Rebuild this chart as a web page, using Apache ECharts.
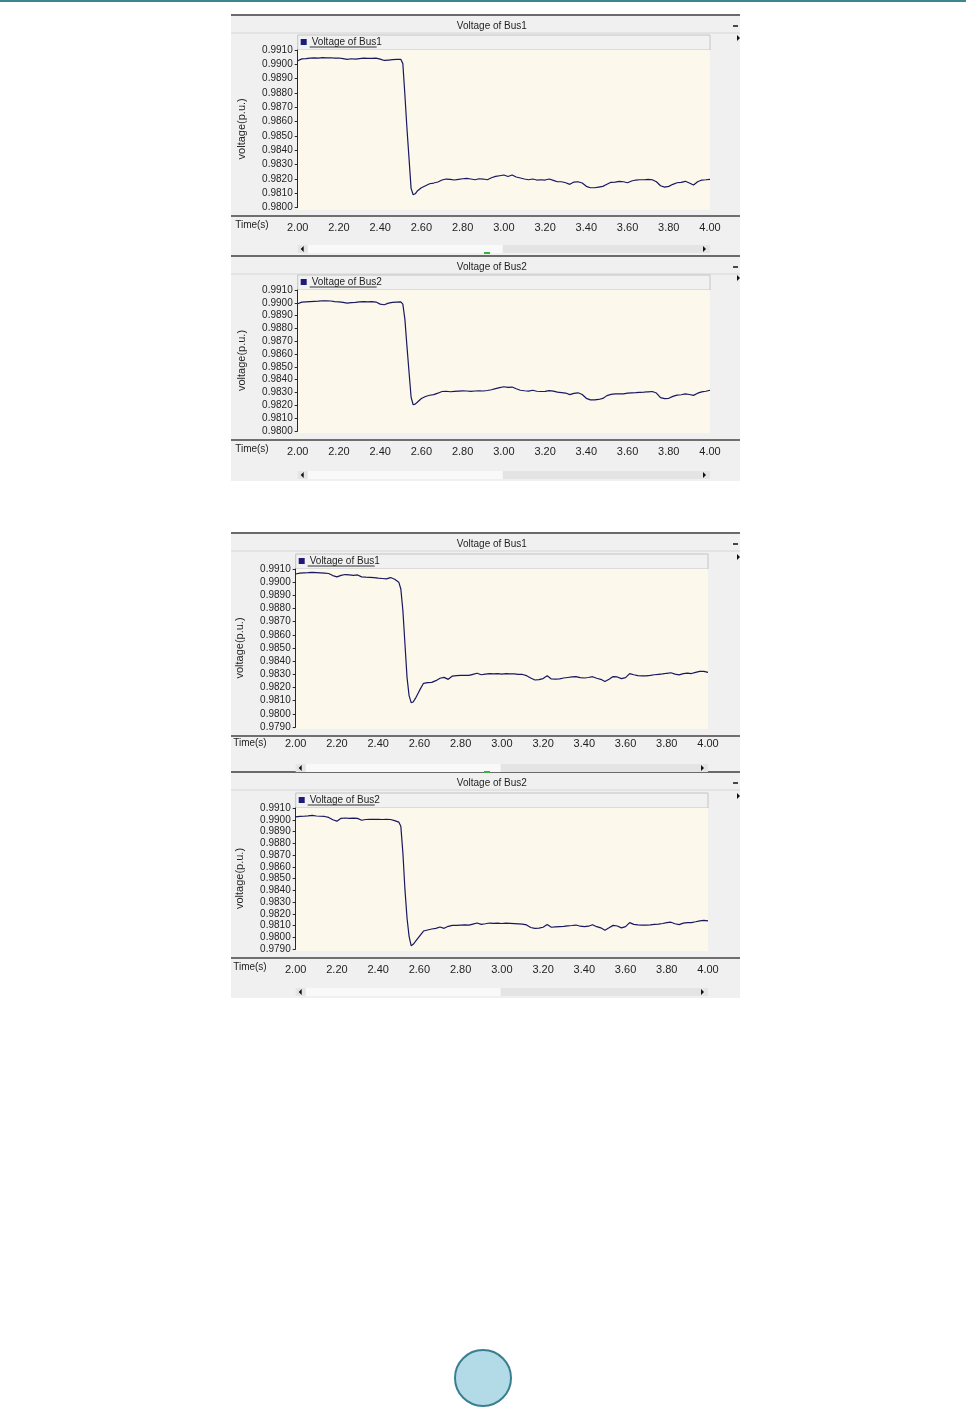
<!DOCTYPE html>
<html><head><meta charset="utf-8">
<script src="https://cdn.jsdelivr.net/npm/echarts@6/dist/echarts.min.js"></script>
<style>html,body{margin:0;padding:0;background:#fff}#c{width:966px;height:1409px}</style>
</head><body><div id="c"></div>
<script>
// ---- data ----
const timeS = [
  2.00,2.02,2.04,2.06,2.08,2.10,2.12,2.14,2.16,2.18,2.20,2.22,2.24,2.26,2.28,2.30,2.32,2.34,2.36,2.38,2.40,2.42,2.44,2.46,2.48,2.50,
  2.51,2.52,2.53,2.54,2.55,2.56,2.57,
  2.58,
  2.60,2.62,2.64,2.66,2.68,2.70,
  2.72,2.74,2.76,2.78,2.80, 2.82,2.84,2.86,2.88,2.90, 2.92,2.94,2.96,2.98,3.00,
  3.02,3.04,3.06,3.08,3.10, 3.12,3.14,3.16,3.18,3.20, 3.22,3.24,3.26,3.28,3.30,
  3.32,3.34,3.36,3.38,3.40, 3.42,3.44,3.46,3.48,3.50, 3.52,3.54,3.56,3.58,3.60,
  3.62,3.64,3.66,3.68,3.70, 3.72,3.74,3.76,3.78,3.80, 3.82,3.84,3.86,3.88,3.90,
  3.92,3.94,3.96,3.98,4.00
];
const bus1First = [
  0.99025,0.99038,0.99040,0.99043,0.99045,0.99044,0.99047,0.99045,0.99046,0.99043,0.99044,0.99040,0.99035,0.99039,0.99037,0.99040,0.99043,0.99042,0.99041,0.99043,0.99036,0.99027,0.99030,0.99033,0.99035,0.99035,
  0.99005,0.98786,0.98553,0.98344,0.98135,0.98090,0.98097,
  0.98116,
  0.98139,0.98153,0.98167,0.98172,0.98179,0.98193,
  0.98200,0.98198,0.98193,0.98198,0.98202, 0.98204,0.98200,0.98195,0.98202,0.98200, 0.98195,0.98209,0.98218,0.98223,0.98228,
  0.98218,0.98228,0.98214,0.98207,0.98200, 0.98195,0.98200,0.98193,0.98195,0.98193, 0.98200,0.98191,0.98181,0.98181,0.98174,
  0.98163,0.98179,0.98181,0.98172,0.98149, 0.98139,0.98139,0.98144,0.98149,0.98163, 0.98177,0.98179,0.98184,0.98181,0.98174,
  0.98186,0.98193,0.98195,0.98195,0.98198, 0.98195,0.98181,0.98153,0.98144,0.98149, 0.98163,0.98174,0.98177,0.98184,0.98172,
  0.98158,0.98181,0.98193,0.98195,0.98198
];
const bus2First = [
  0.98993,0.99005,0.99008,0.99010,0.99012,0.99013,0.99016,0.99015,0.99014,0.99010,0.99008,0.99003,0.98997,0.99001,0.99004,0.99008,0.99010,0.99007,0.99010,0.99006,0.98990,0.98985,0.98998,0.99004,0.99006,0.99008,
  0.98990,0.98871,0.98660,0.98460,0.98265,0.98205,0.98210,
  0.98224,
  0.98253,0.98269,0.98279,0.98284,0.98295,0.98308,
  0.98310,0.98306,0.98309,0.98311,0.98313, 0.98312,0.98309,0.98312,0.98314,0.98312, 0.98316,0.98322,0.98331,0.98339,0.98345,
  0.98340,0.98343,0.98330,0.98318,0.98314, 0.98311,0.98318,0.98310,0.98308,0.98309, 0.98315,0.98311,0.98303,0.98300,0.98296,
  0.98284,0.98294,0.98298,0.98285,0.98255, 0.98243,0.98243,0.98246,0.98254,0.98276, 0.98286,0.98289,0.98290,0.98289,0.98296,
  0.98298,0.98299,0.98302,0.98303,0.98306, 0.98308,0.98296,0.98260,0.98253,0.98255, 0.98270,0.98280,0.98283,0.98290,0.98285,
  0.98278,0.98295,0.98305,0.98310,0.98318
];
const bus1Second = [
  0.99062,0.99068,0.99070,0.99072,0.99075,0.99073,0.99071,0.99069,0.99066,0.99050,0.99040,0.99052,0.99058,0.99056,0.99052,0.99055,0.99040,0.99038,0.99037,0.99035,0.99030,0.99028,0.99025,0.99035,0.99022,0.99000,
  0.98948,0.98784,0.98530,0.98277,0.98138,0.98085,0.98090,
  0.98115,
  0.98176,0.98232,0.98237,0.98239,0.98252,0.98270,
  0.98277,0.98262,0.98287,0.98290,0.98292, 0.98293,0.98292,0.98300,0.98308,0.98297, 0.98302,0.98306,0.98303,0.98305,0.98302,
  0.98305,0.98304,0.98303,0.98300,0.98299, 0.98290,0.98272,0.98257,0.98260,0.98268, 0.98289,0.98265,0.98264,0.98266,0.98272,
  0.98276,0.98280,0.98283,0.98275,0.98272, 0.98276,0.98282,0.98270,0.98262,0.98245, 0.98262,0.98283,0.98280,0.98267,0.98275,
  0.98305,0.98297,0.98290,0.98289,0.98289, 0.98292,0.98297,0.98300,0.98303,0.98308, 0.98312,0.98302,0.98296,0.98305,0.98309,
  0.98306,0.98315,0.98323,0.98322,0.98315
];
const bus2Second = [
  0.99024,0.99029,0.99030,0.99033,0.99037,0.99032,0.99030,0.99028,0.99020,0.99000,0.98988,0.99012,0.99015,0.99012,0.99014,0.99012,0.98996,0.99002,0.99004,0.99003,0.99004,0.99002,0.99003,0.99002,0.98992,0.98980,
  0.98944,0.98717,0.98405,0.98164,0.98008,0.97928,0.97940,
  0.97962,
  0.98008,0.98053,0.98062,0.98070,0.98076,0.98087,
  0.98076,0.98093,0.98101,0.98101,0.98104, 0.98106,0.98103,0.98112,0.98121,0.98110, 0.98115,0.98121,0.98118,0.98120,0.98117,
  0.98120,0.98118,0.98116,0.98114,0.98112, 0.98105,0.98083,0.98076,0.98078,0.98085, 0.98108,0.98085,0.98088,0.98091,0.98093,
  0.98097,0.98100,0.98104,0.98094,0.98090, 0.98094,0.98106,0.98090,0.98080,0.98060, 0.98080,0.98101,0.98096,0.98080,0.98090,
  0.98124,0.98110,0.98105,0.98104,0.98104, 0.98106,0.98110,0.98112,0.98117,0.98124, 0.98128,0.98115,0.98108,0.98120,0.98125,
  0.98125,0.98132,0.98140,0.98143,0.98140
];
const seriesNames = ['Voltage of Bus1','Voltage of Bus2','Voltage of Bus1','Voltage of Bus2'];
const seriesValues = [bus1First, bus2First, bus1Second, bus2Second];
const yMins = [0.980, 0.980, 0.979, 0.979];
const yMax = 0.991;
const yStep = 0.001;
const xMin = 2.0, xMax = 4.0, xStep = 0.2;
const xAxisTitle = 'Time(s)';
const yAxisTitle = 'voltage(p.u.)';

// ---- layout ----
const W = 966, H = 1409;
const FONT = '"Liberation Sans", Arial, sans-serif';
const TXT = '#1e1e1e';
const panels = [
  {top:15,  bottom:256, gl:297.7, gr:710, gt:50,  gb:207.7, axisY:216, labM:6, timeDy:4, scrollY:249, green:true},
  {top:256, bottom:481, gl:297.7, gr:710, gt:290, gb:431,   axisY:440, labM:6, timeDy:4, scrollY:475, green:false},
  {top:533, bottom:772, gl:295.7, gr:708, gt:569, gb:727,   axisY:736, labM:2, timeDy:2, scrollY:768, green:true},
  {top:772, bottom:998, gl:295.7, gr:708, gt:808, gb:949,   axisY:958, labM:6, timeDy:4, scrollY:992, green:false}
];
const PX0 = 231, PX1 = 740;

const grids = [], xAxes = [], yAxes = [], series = [], titles = [], legends = [], graphics = [];
panels.forEach((p, i) => {
  grids.push({left:p.gl, top:p.gt, width:p.gr - p.gl, height:p.gb - p.gt, show:false, containLabel:false});
  xAxes.push({
    gridIndex:i, type:'value', min:xMin, max:xMax, interval:xStep, offset:p.axisY - p.gb,
    axisLine:{show:false}, axisTick:{show:false}, splitLine:{show:false},
    axisLabel:{formatter:v => v.toFixed(2), fontSize:11, color:TXT, fontFamily:FONT, margin:p.labM},
    name:xAxisTitle, nameLocation:'start', nameGap:29,
    nameTextStyle:{fontSize:10, color:TXT, fontFamily:FONT, verticalAlign:'top', padding:[p.timeDy,0,0,0]}
  });
  yAxes.push({
    gridIndex:i, type:'value', min:yMins[i], max:yMax, interval:yStep,
    axisLine:{show:true, lineStyle:{color:'#2a2a2a', width:1}},
    axisTick:{show:true, length:3, lineStyle:{color:'#2a2a2a'}},
    splitLine:{show:false},
    axisLabel:{formatter:v => v.toFixed(4), fontSize:10, color:TXT, fontFamily:FONT, margin:5},
    name:yAxisTitle, nameLocation:'middle', nameRotate:90, nameGap:50,
    nameTextStyle:{fontSize:11, color:TXT, fontFamily:FONT}
  });
  series.push({
    type:'line', name:seriesNames[i], xAxisIndex:i, yAxisIndex:i,
    data: timeS.map((t, k) => [t, seriesValues[i][k]]),
    showSymbol:false, symbol:'none', animation:false,
    lineStyle:{color:'#181860', width:1.2}, itemStyle:{color:'#1c1c78'}
  });
  titles.push({
    text:seriesNames[i], left:'50.4%', top:p.top + 1, textAlign:'center',
    textStyle:{fontSize:10, fontWeight:'normal', color:TXT, fontFamily:FONT}
  });
  legends.push({
    data:[{name:seriesNames[i], icon:'rect'}], left:p.gl + 3, top:p.gt - 15, padding:[2,0,0,0],
    itemWidth:6, itemHeight:6, selectedMode:false,
    textStyle:{fontSize:10, color:TXT, fontFamily:FONT}
  });
  // decoration
  graphics.push(
    {type:'rect', z:-10, shape:{x:PX0, y:p.top, width:PX1 - PX0, height:p.bottom - p.top}, style:{fill:'#f0f0f0'}},
    {type:'line', z:-9, shape:{x1:PX0, y1:p.top, x2:PX1, y2:p.top}, style:{stroke:'#6a6a6a', lineWidth:2}},
    {type:'line', z:-9, shape:{x1:PX0, y1:p.top + 18, x2:PX1, y2:p.top + 18}, style:{stroke:'#d6d6d6', lineWidth:1}},
    {type:'rect', z:-9, shape:{x:p.gl, y:p.gt - 15, width:p.gr - p.gl, height:15}, style:{fill:'#f1f1f1', stroke:'#c4c4c4', lineWidth:1}},
    {type:'rect', z:-9, shape:{x:p.gl, y:p.gt, width:p.gr - p.gl, height:p.gb - p.gt + 2}, style:{fill:'#fdf8ec'}},
    {type:'line', z:5, shape:{x1:p.gl + 12, y1:p.gt - 3, x2:p.gl + 79, y2:p.gt - 3}, style:{stroke:'#333', lineWidth:1}},
    {type:'line', z:-8, shape:{x1:PX0, y1:p.axisY, x2:PX1, y2:p.axisY}, style:{stroke:'#444', lineWidth:1.5}},
    {type:'rect', z:-11, shape:{x:p.gl, y:p.scrollY - 4, width:p.gr - p.gl, height:8}, style:{fill:'#e4e4e4'}},
    {type:'rect', z:-11, shape:{x:p.gl + 10, y:p.scrollY - 4, width:195, height:8}, style:{fill:'#f9f9f9'}},
    {type:'polygon', z:-6, shape:{points:[[p.gl + 3, p.scrollY], [p.gl + 6, p.scrollY - 3], [p.gl + 6, p.scrollY + 3]]}, style:{fill:'#111'}},
    {type:'polygon', z:-6, shape:{points:[[p.gr - 4, p.scrollY], [p.gr - 7, p.scrollY - 3], [p.gr - 7, p.scrollY + 3]]}, style:{fill:'#111'}},
    {type:'line', z:-6, shape:{x1:733, y1:p.top + 11, x2:738, y2:p.top + 11}, style:{stroke:'#111', lineWidth:1.5}},
    {type:'polygon', z:-6, shape:{points:[[740, p.gt - 12], [737, p.gt - 15], [737, p.gt - 9]]}, style:{fill:'#111'}}
  );
  if (p.green) {
    graphics.push({type:'rect', z:-6, shape:{x:484, y:p.scrollY + 3, width:6, height:2}, style:{fill:'#3cb043'}});
  }
});
// scrollbar tracks sit above the panel backgrounds
graphics.forEach(g => { if (g.z === -11) g.z = -8; });
// page decoration: top rule and page-number circle
graphics.push(
  {type:'rect', z:-10, shape:{x:0, y:0, width:W, height:2}, style:{fill:'#3b8790'}},
  {type:'circle', z:-10, shape:{cx:483, cy:1378, r:28}, style:{fill:'#b3dbe7', stroke:'#3a7f8f', lineWidth:2}}
);

const chart = echarts.init(document.getElementById('c'), null, {renderer:'canvas', width:W, height:H});
chart.setOption({
  backgroundColor:'#ffffff',
  animation:false,
  title:titles,
  legend:legends,
  grid:grids,
  xAxis:xAxes,
  yAxis:yAxes,
  series:series,
  graphic:graphics
});
</script>
</body></html>
